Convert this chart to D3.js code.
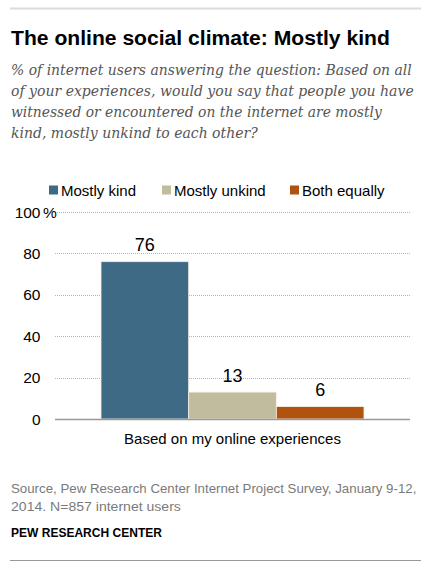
<!DOCTYPE html>
<html>
<head>
<meta charset="utf-8">
<script src="https://cdn.jsdelivr.net/npm/d3@7"></script>
<style>
  html, body { margin: 0; padding: 0; background: #fff; }
  svg { display: block; }
</style>
</head>
<body>
<svg id="chart" width="431" height="573"></svg>
<script>
// ---- data ----
const categories = ["Based on my online experiences"];
const seriesNames = ["Mostly kind", "Mostly unkind", "Both equally"];
const seriesValues = [76, 13, 6];
const seriesColors = ["#3e6a86", "#c2bc9e", "#b0530f"];
const yTicks = [0, 20, 40, 60, 80, 100];

const titleText = "The online social climate: Mostly kind";
const subtitleLines = [
  "% of internet users answering the question: Based on all",
  "of your experiences, would you say that people you have",
  "witnessed or encountered on the internet are mostly",
  "kind, mostly unkind to each other?"
];
const sourceLines = [
  "Source, Pew Research Center Internet Project Survey, January 9-12,",
  "2014. N=857 internet users"
];
const creditText = "PEW RESEARCH CENTER";

// ---- layout ----
const svg = d3.select("#chart");
const sans = "'Liberation Sans', Arial, Helvetica, sans-serif";
const serif = "'DejaVu Serif', Georgia, serif";

// horizontally scale a text (placed at local 0,0 inside a translated group) to width w
function fitScaled(parent, x, y, w, build) {
  const gEl = parent.append("g").attr("transform", `translate(${x},${y})`);
  const el = build(gEl.append("text").attr("x", 0).attr("y", 0));
  const n = el.node().getComputedTextLength();
  const sx = n > 0 ? w / n : 1;
  gEl.attr("transform", `translate(${x},${y}) scale(${sx},1)`);
  return el;
}

// top rule
svg.append("line").attr("x1", 10).attr("x2", 421).attr("y1", 8.5).attr("y2", 8.5)
  .attr("stroke", "#dcdcdc").attr("stroke-width", 2);

// title
fitScaled(svg, 11, 45, 379, s => s
  .attr("font-family", sans).attr("font-weight", "bold").attr("font-size", 21)
  .attr("fill", "#000").text(titleText));

// subtitle
const subW = [401, 403, 371, 247];
subtitleLines.forEach((line, i) => {
  fitScaled(svg, 11, 75 + i * 21, subW[i], s => s
    .attr("font-family", serif).attr("font-style", "italic").attr("font-size", 15)
    .attr("fill", "#555").text(line));
});

// chart scales
const x0 = d3.scaleBand().domain(categories).range([55, 410]).paddingOuter(0.175).paddingInner(0);
const x1 = d3.scaleBand().domain(seriesNames).range([0, x0.bandwidth()]).padding(0);
const y = d3.scaleLinear().domain([0, 100]).range([419, 212]);

// gridlines
svg.append("g").selectAll("line").data(yTicks.filter(d => d > 0)).join("line")
  .attr("x1", 55).attr("x2", 410)
  .attr("y1", d => Math.round(y(d)) + 0.5).attr("y2", d => Math.round(y(d)) + 0.5)
  .attr("stroke", "#b5b5b5").attr("stroke-width", 1).attr("stroke-dasharray", "1,1");

// y tick labels
const yAxis = svg.append("g").attr("font-family", sans).attr("font-size", 15.5).attr("fill", "#000");
yAxis.selectAll("text").data(yTicks).join("text")
  .attr("x", 40.5).attr("y", d => y(d) + 5.5)
  .attr("text-anchor", "end").text(d => d);
yAxis.append("text").attr("x", 43).attr("y", y(100) + 5.5).attr("text-anchor", "start").text("%");

// bars
const g = svg.append("g");
categories.forEach(cat => {
  seriesNames.forEach((s, i) => {
    const v = seriesValues[i];
    g.append("rect")
      .attr("x", x0(cat) + x1(s)).attr("width", x1.bandwidth())
      .attr("y", y(v)).attr("height", y(0) - y(v))
      .attr("fill", seriesColors[i])
      .attr("stroke", "#f4efe4").attr("stroke-width", 0.8);
    g.append("text")
      .attr("x", x0(cat) + x1(s) + x1.bandwidth() / 2).attr("y", y(v) - 10.5)
      .attr("text-anchor", "middle").attr("font-family", sans).attr("font-size", 18)
      .attr("fill", "#000").text(v);
  });
  svg.append("text").attr("x", x0(cat) + x0.bandwidth() / 2).attr("y", 444)
    .attr("text-anchor", "middle").attr("font-family", sans).attr("font-size", 15)
    .attr("fill", "#000").text(cat);
});

// baseline axis
svg.append("line").attr("x1", 55).attr("x2", 410).attr("y1", 419.5).attr("y2", 419.5)
  .attr("stroke", "#999").attr("stroke-width", 1.6);

// legend
const legX = [49, 162, 290];
seriesNames.forEach((s, i) => {
  svg.append("rect").attr("x", legX[i]).attr("y", 185.5).attr("width", 9).attr("height", 9)
    .attr("fill", seriesColors[i]);
  svg.append("text").attr("x", legX[i] + 12).attr("y", 195.5)
    .attr("font-family", sans).attr("font-size", 15).attr("fill", "#000").text(s);
});

// source
const srcW = [406, 170];
sourceLines.forEach((line, i) => {
  fitScaled(svg, 11, 493 + i * 18, srcW[i], s => s
    .attr("font-family", sans).attr("font-size", 13).attr("fill", "#7a7a7a").text(line));
});

// credit
fitScaled(svg, 11, 537, 151, s => s
  .attr("font-family", sans).attr("font-weight", "bold").attr("font-size", 13)
  .attr("fill", "#000").text(creditText));

// bottom rule
svg.append("line").attr("x1", 10).attr("x2", 421).attr("y1", 560.5).attr("y2", 560.5)
  .attr("stroke", "#999").attr("stroke-width", 1);
</script>
</body>
</html>
